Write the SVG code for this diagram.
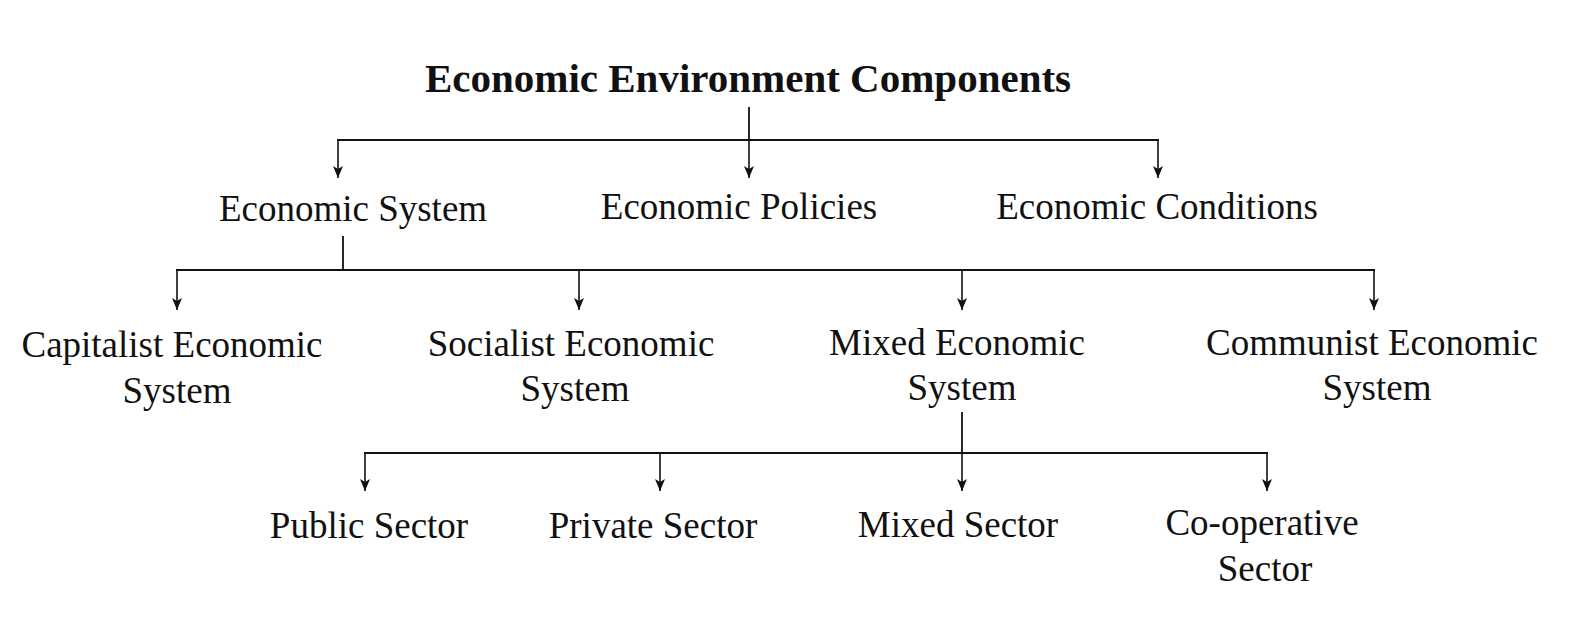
<svg xmlns="http://www.w3.org/2000/svg" width="1575" height="627" viewBox="0 0 1575 627">
<defs>
<marker id="ah" markerWidth="12" markerHeight="10" refX="12" refY="5" orient="auto" markerUnits="userSpaceOnUse" viewBox="0 0 12 10">
<path d="M0,0 L3,5 L0,10 L12,5 Z" fill="#111"/>
</marker>
</defs>
<style>
text{font-family:"Liberation Serif","Times New Roman",serif;fill:#111;text-anchor:middle;font-size:37px}
.title{font-weight:bold;font-size:41px}
.ln{stroke:#111;stroke-width:1.8;fill:none}
.ar{stroke:#111;stroke-width:1.6;fill:none;marker-end:url(#ah)}
</style>
<rect width="1575" height="627" fill="#fff"/>
<g id="connectors">
<line class="ln" x1="749" y1="107" x2="749" y2="140"/>
<line class="ln" x1="337" y1="140" x2="1159" y2="140"/>
<line class="ar" x1="338" y1="140" x2="338" y2="178"/>
<line class="ar" x1="749" y1="140" x2="749" y2="178"/>
<line class="ar" x1="1158" y1="140" x2="1158" y2="178"/>
<line class="ln" x1="343" y1="236" x2="343" y2="270"/>
<line class="ln" x1="176" y1="270" x2="1375" y2="270"/>
<line class="ar" x1="177" y1="270" x2="177" y2="310"/>
<line class="ar" x1="579" y1="270" x2="579" y2="310"/>
<line class="ar" x1="962" y1="270" x2="962" y2="310"/>
<line class="ar" x1="1374" y1="270" x2="1374" y2="310"/>
<line class="ln" x1="962" y1="412" x2="962" y2="453"/>
<line class="ln" x1="364" y1="453" x2="1268" y2="453"/>
<line class="ar" x1="365" y1="453" x2="365" y2="491"/>
<line class="ar" x1="660" y1="453" x2="660" y2="491"/>
<line class="ar" x1="962" y1="453" x2="962" y2="491"/>
<line class="ar" x1="1267" y1="453" x2="1267" y2="491"/>
</g>
<g id="root"><text class="title" x="748" y="92">Economic Environment Components</text></g>
<g id="economic-system"><text x="353" y="221">Economic System</text></g>
<g id="economic-policies"><text x="739" y="219">Economic Policies</text></g>
<g id="economic-conditions"><text x="1157" y="219">Economic Conditions</text></g>
<g id="capitalist"><text x="172" y="357">Capitalist Economic</text><text x="177" y="403">System</text></g>
<g id="socialist"><text x="571" y="356">Socialist Economic</text><text x="575" y="401">System</text></g>
<g id="mixed"><text x="957" y="355">Mixed Economic</text><text x="962" y="400">System</text></g>
<g id="communist"><text x="1372" y="355">Communist Economic</text><text x="1377" y="400">System</text></g>
<g id="public"><text x="369" y="538">Public Sector</text></g>
<g id="private"><text x="653" y="538">Private Sector</text></g>
<g id="mixed-sector"><text x="958" y="537">Mixed Sector</text></g>
<g id="cooperative"><text x="1262" y="535">Co-operative</text><text x="1265" y="581">Sector</text></g>
</svg>
